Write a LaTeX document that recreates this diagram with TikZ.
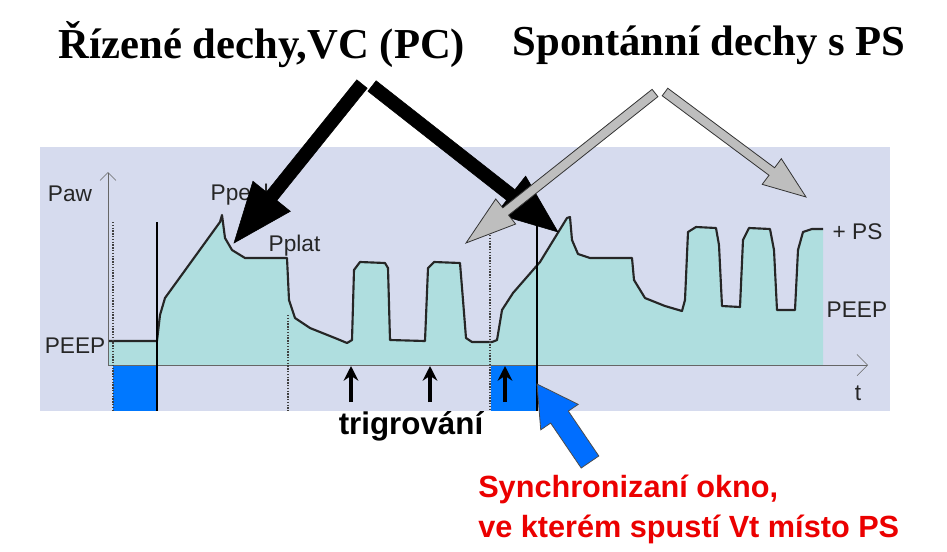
\documentclass[tikz,border=0pt]{standalone}
\usepackage{fontspec}
\setmainfont{Liberation Serif}
\setsansfont{Liberation Sans}
\usetikzlibrary{calc,arrows.meta}
\definecolor{panel}{RGB}{214,219,238}
\definecolor{winblue}{RGB}{0,120,255}
\definecolor{arrblue}{RGB}{0,110,255}
\definecolor{teal}{RGB}{175,222,223}
\definecolor{grayarr}{RGB}{190,190,190}
\definecolor{redtxt}{RGB}{235,0,0}
\newcommand\fatarr[6]{%
 \coordinate (hh) at ($(#2)!#5!(#1)$);
 \filldraw[#6] ($(#1)!#3!90:(#2)$) -- ($(hh)!#3!90:(#2)$) -- ($(hh)!#4!90:(#2)$) -- (#2)
  -- ($(hh)!#4!-90:(#2)$) -- ($(hh)!#3!-90:(#2)$) -- ($(#1)!#3!-90:(#2)$) -- cycle;}
\tikzset{lbl/.style={font=\sffamily\fontsize{17}{17}\selectfont,text=black!85},
 dotv/.style={densely dotted,line width=1.1pt,black!75},
 uparr/.style={-{Stealth[length=11pt,width=11pt]},line width=3pt}}
\begin{document}
\begin{tikzpicture}[x=0.75pt,y=-0.75pt]
\useasboundingbox (0,0) rectangle (947,551);
\fill[white] (0,0) rectangle (947,551);
\fill[panel] (40,147) rectangle (890,411);
\fill[winblue] (113,365) rectangle (157,411);
\fill[winblue] (491,365) rectangle (537,411);
\def\curve{(157,341) -- (160,315) -- (165,298) -- (220,222) -- (222,215) -- (225,238) -- (232,250) -- (245,258) -- (287,258) -- (289,300) -- (295,318) -- (310,328) -- (335,338) -- (347,343) -- (352,340) -- (354,270) -- (360,262) -- (385,263) -- (388,268) -- (390,340) -- (425,341) -- (428,268) -- (434,262) -- (460,263) -- (463,300) -- (466,338) -- (472,342) -- (492,342) -- (497,340) -- (502,310) -- (513,293) -- (540,262) -- (567,218) -- (570,217) -- (572,240) -- (578,254) -- (590,258) -- (632,258) -- (634,280) -- (645,298) -- (665,306) -- (682,311) -- (685,300) -- (688,232) -- (696,227) -- (716,228) -- (719,245) -- (722,306) -- (740,307) -- (743,240) -- (749,228) -- (770,229) -- (774,250) -- (777,310) -- (795,310) -- (798,250) -- (803,232) -- (812,229) -- (823,229)}
\fill[teal] (108,341) -- \curve -- (823,365) -- (108,365) -- cycle;
\draw[line width=1.6pt,black!85,line join=round] (108,341) -- \curve;
\draw[black!60,-{Straight Barb[length=6pt]}] (108,365) -- (108,172);
\draw[black!60,-{Straight Barb[length=8pt]}] (108,365) -- (868,365);
\draw[dotv] (113,222) -- (113,411);
\draw[dotv] (288,315) -- (288,411);
\draw[dotv] (490,235) -- (490,411);
\draw[line width=1.3pt] (157,222) -- (157,411);
\draw[line width=1.3pt] (537,222) -- (537,411);
\node[lbl] (paw) at (70,194) {Paw};
\node[lbl] (peep1) at (75,346) {PEEP};
\node[lbl,anchor=west] (ppeak) at (206,195) {Ppeak};
\node[lbl,anchor=west] (pplat) at (264,246) {Pplat};
\node[lbl,anchor=west] (ps) at (828,232) {+ PS};
\node[lbl,anchor=west] (peep2) at (822,310) {PEEP};
\node[lbl] (t) at (858,393) {t};
\node[font=\sffamily\bfseries\fontsize{23.5}{23.5}\selectfont] (trig) at (411,426) {trigrování};
\coordinate (u1a) at (351,402); \coordinate (u1b) at (351,366);
\coordinate (u2a) at (430,402); \coordinate (u2b) at (430,366);
\coordinate (u3a) at (505,402); \coordinate (u3b) at (505,366);
\draw[uparr] (u1a) -- (u1b); \draw[uparr] (u2a) -- (u2b); \draw[uparr] (u3a) -- (u3b);
\node[font=\bfseries\fontsize{32}{32}\selectfont] (t1) at (262,45) {Řízené dechy,VC (PC)};
\node[font=\bfseries\fontsize{32}{32}\selectfont] (t2) at (709,45) {Spontánní dechy s PS};
\coordinate (b1s) at (362,84); \coordinate (b1e) at (234,243);
\coordinate (b2s) at (372,86); \coordinate (b2e) at (558,232);
\coordinate (g1s) at (655,93); \coordinate (g1e) at (466,243);
\coordinate (g2s) at (665,92); \coordinate (g2e) at (806,197);
\coordinate (bls) at (590,462); \coordinate (ble) at (537,384);
\fatarr{b1s}{b1e}{5pt}{18pt}{45pt}{black}
\fatarr{b2s}{b2e}{5pt}{18pt}{45pt}{black}
\fatarr{g1s}{g1e}{3.5pt}{12pt}{38pt}{fill=grayarr,draw=black!80,line width=0.6pt}
\fatarr{g2s}{g2e}{3.5pt}{12pt}{32pt}{fill=grayarr,draw=black!80,line width=0.6pt}
\fatarr{bls}{ble}{8pt}{17pt}{30pt}{fill=arrblue,draw=black!70,line width=0.6pt}
\node[font=\sffamily\bfseries\fontsize{23}{30}\selectfont,text=redtxt,anchor=west,align=left,inner sep=0pt] (red) at (478,509) {Synchronizaní okno,\\ve kterém spustí Vt místo PS};
\end{tikzpicture}
\end{document}
